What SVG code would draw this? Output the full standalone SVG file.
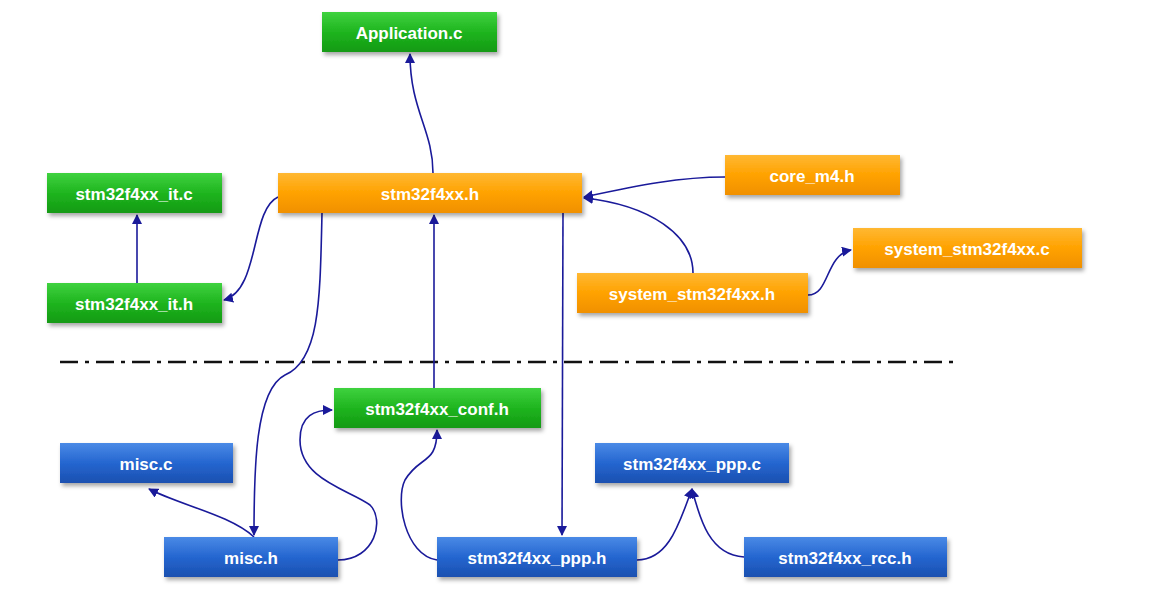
<svg xmlns="http://www.w3.org/2000/svg" width="1150" height="593" viewBox="0 0 1150 593">
<defs>
<linearGradient id="gG" x1="0" y1="0" x2="0" y2="1"><stop offset="0" stop-color="#3fd23f"/><stop offset="0.5" stop-color="#1fb51f"/><stop offset="1" stop-color="#139a13"/></linearGradient>
<linearGradient id="gO" x1="0" y1="0" x2="0" y2="1"><stop offset="0" stop-color="#ffb833"/><stop offset="0.5" stop-color="#ffa200"/><stop offset="1" stop-color="#f09000"/></linearGradient>
<linearGradient id="gB" x1="0" y1="0" x2="0" y2="1"><stop offset="0" stop-color="#4a8ae6"/><stop offset="0.5" stop-color="#2566d0"/><stop offset="1" stop-color="#1a50b0"/></linearGradient>
<filter id="sh" x="-10%" y="-30%" width="120%" height="170%"><feDropShadow dx="2" dy="3" stdDeviation="2" flood-color="#000" flood-opacity="0.35"/></filter>
<marker id="ar" viewBox="0 0 10 10" refX="9" refY="5" markerWidth="10" markerHeight="10" markerUnits="userSpaceOnUse" orient="auto"><path d="M0,0 L10,5 L0,10 z" fill="#1a1a9a"/></marker>
<style>
.n rect{filter:url(#sh)}
.g rect{fill:url(#gG)} .o rect{fill:url(#gO)} .b rect{fill:url(#gB)}
.n text{font-family:"Liberation Sans",Arial,sans-serif;font-weight:bold;font-size:17px;fill:#fff;text-anchor:middle;dominant-baseline:central}
#edges path{fill:none;stroke:#1a1a9a;stroke-width:1.6;marker-end:url(#ar)}
</style>
</defs>
<rect width="1150" height="593" fill="#fff"/>
<line x1="60" y1="362" x2="958" y2="362" stroke="#111" stroke-width="2.5" stroke-dasharray="18,7,4,7"/>
<g id="edges">
<path d="M433,173 C433,130 410,110 410,54"/>
<path d="M137,283 L137,215"/>
<path d="M278,197 C250,210 260,290 224,300"/>
<path d="M725,177 C680,177 640,185 584,197"/>
<path d="M693,273 C693,235 650,205 584,198"/>
<path d="M808,295 C830,295 825,255 851,250"/>
<path d="M322,213 C320,300 320,360 285,375 C255,390 254,470 254,535"/>
<path d="M434,388 L434,215"/>
<path d="M563,213 L562,535"/>
<path d="M254,537 C230,515 180,505 149,489"/>
<path d="M338,560 C375,560 385,520 370,505 C350,490 300,480 300,440 C300,415 315,410 332,410"/>
<path d="M437,560 C405,555 395,500 405,480 C420,455 437,465 437,430"/>
<path d="M637,560 C670,560 680,520 692,489"/>
<path d="M744,557 C710,555 700,520 692,489"/>
</g>
<g id="app" class="n g"><rect x="322" y="12" width="175" height="40"/><text x="409" y="33">Application.c</text></g>
<g id="itc" class="n g"><rect x="47" y="173" width="175" height="40"/><text x="134" y="194">stm32f4xx_it.c</text></g>
<g id="main" class="n o"><rect x="278" y="173" width="304" height="40"/><text x="430" y="194">stm32f4xx.h</text></g>
<g id="core" class="n o"><rect x="725" y="155" width="175" height="40"/><text x="812" y="176">core_m4.h</text></g>
<g id="sysc" class="n o"><rect x="853" y="228" width="229" height="40"/><text x="967" y="249">system_stm32f4xx.c</text></g>
<g id="ith" class="n g"><rect x="47" y="283" width="175" height="40"/><text x="134" y="304">stm32f4xx_it.h</text></g>
<g id="sysh" class="n o"><rect x="577" y="273" width="231" height="40"/><text x="692" y="294">system_stm32f4xx.h</text></g>
<g id="conf" class="n g"><rect x="334" y="388" width="207" height="40"/><text x="437" y="409">stm32f4xx_conf.h</text></g>
<g id="miscc" class="n b"><rect x="60" y="443" width="173" height="40"/><text x="146" y="464">misc.c</text></g>
<g id="pppc" class="n b"><rect x="595" y="443" width="194" height="40"/><text x="692" y="464">stm32f4xx_ppp.c</text></g>
<g id="misch" class="n b"><rect x="164" y="537" width="174" height="40"/><text x="251" y="558">misc.h</text></g>
<g id="ppph" class="n b"><rect x="437" y="537" width="200" height="40"/><text x="537" y="558">stm32f4xx_ppp.h</text></g>
<g id="rcch" class="n b"><rect x="744" y="537" width="203" height="40"/><text x="845" y="558">stm32f4xx_rcc.h</text></g>
</svg>
